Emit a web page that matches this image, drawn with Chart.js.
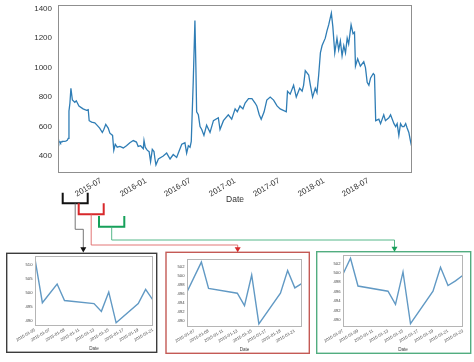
<!DOCTYPE html>
<html><head><meta charset="utf-8">
<script src="https://cdn.jsdelivr.net/npm/chart.js@4.4.0/dist/chart.umd.min.js"></script>
<style>
html,body{margin:0;padding:0;background:#fff;}
#wrap{position:relative;width:474px;height:362px;overflow:hidden;background:#fff;}
canvas{position:absolute;}
svg{position:absolute;left:0;top:0;pointer-events:none;}
</style></head><body>
<div id="wrap">
<canvas id="main" width="474" height="210" style="left:0;top:0;width:474px;height:210px"></canvas>
<canvas id="w1" width="151" height="100" style="left:6px;top:253px;width:151px;height:100px"></canvas>
<canvas id="w2" width="144" height="102" style="left:166px;top:252px;width:144px;height:102px"></canvas>
<canvas id="w3" width="155" height="103" style="left:316px;top:251px;width:155px;height:103px"></canvas>
<svg width="474" height="362">
 <g fill="none">
  <rect x="6.7" y="253.3" width="150" height="99" stroke="#3c3c3c" stroke-width="1.4"/>
  <rect x="166" y="252.3" width="143.3" height="101" stroke="#c45a55" stroke-width="1.4"/>
  <rect x="316.7" y="251.7" width="154" height="101.6" stroke="#52ad80" stroke-width="1.4"/>
  <path d="M62.7 192.7 V203.3 H87.7 V192.7" stroke="#111" stroke-width="2"/>
  <path d="M78.7 203.3 V214.3 H103.7 V203.3" stroke="#d8282b" stroke-width="2"/>
  <path d="M99 216 V226.7 H124.3 V216" stroke="#16a05a" stroke-width="2"/>
  <path d="M75.2 203.3 V229.3 H83.3 V248" stroke="#666" stroke-width="0.9"/>
  <path d="M91.2 214.3 V245 H237.7 V248" stroke="#e06666" stroke-width="0.9"/>
  <path d="M111.7 226.7 V240 H394.5 V248" stroke="#44b07d" stroke-width="0.9"/>
 </g>
 <polygon points="80.3,247.3 86.3,247.3 83.3,252.6" fill="#111"/>
 <polygon points="234.7,247.3 240.7,247.3 237.7,252.3" fill="#d62728"/>
 <polygon points="391.5,246.7 397.5,246.7 394.5,251.7" fill="#1a9e5a"/>
</svg>
</div>
<script>
// ---------- data ----------
const DATES = [
'2015-01-05','2015-01-06','2015-01-08','2015-01-09','2015-01-13','2015-01-14','2015-01-15','2015-01-16',
'2015-01-19','2015-01-20','2015-01-21','2015-01-22','2015-01-23','2015-01-30','2015-02-06','2015-02-12',
'2015-02-16','2015-02-19','2015-02-23','2015-02-27','2015-03-05','2015-03-15','2015-03-21','2015-04-01',
'2015-04-18','2015-05-02','2015-05-09','2015-05-13','2015-05-23','2015-06-05','2015-06-14','2015-06-25',
'2015-07-06','2015-07-12','2015-07-20','2015-07-30','2015-08-06','2015-08-17','2015-08-22','2015-08-28',
'2015-09-05','2015-09-16','2015-09-30','2015-10-13','2015-10-27','2015-11-10','2015-11-23','2015-11-30',
'2015-12-10','2015-12-21','2015-12-24','2015-12-29','2016-01-06','2016-01-14','2016-01-20','2016-01-27',
'2016-02-03','2016-02-07','2016-02-11','2016-02-21','2016-03-12','2016-03-26','2016-04-09','2016-04-22',
'2016-05-06','2016-05-13','2016-05-27','2016-06-09','2016-06-16','2016-06-23','2016-06-30','2016-07-05',
'2016-07-13','2016-07-20','2016-07-24','2016-07-27','2016-08-03','2016-08-10','2016-08-17','2016-08-26',
'2016-09-06','2016-09-20','2016-10-04','2016-10-24','2016-10-31','2016-11-14','2016-12-04','2016-12-18',
'2017-01-01','2017-01-10','2017-01-21','2017-02-02','2017-02-11','2017-02-25','2017-03-11','2017-03-24',
'2017-03-31','2017-04-10','2017-04-18','2017-04-30','2017-05-11','2017-05-25','2017-06-08','2017-06-22',
'2017-07-05','2017-07-30','2017-08-04','2017-08-15','2017-08-29','2017-09-09','2017-09-23','2017-10-03',
'2017-10-09','2017-10-16','2017-10-30','2017-11-06','2017-11-15','2017-11-26','2017-12-03','2017-12-10',
'2017-12-17','2017-12-24','2018-01-06','2018-01-13','2018-01-20','2018-01-31','2018-02-06','2018-02-14',
'2018-02-23','2018-03-02','2018-03-09','2018-03-16','2018-03-23','2018-03-30','2018-04-06','2018-04-12',
'2018-04-22','2018-04-30','2018-05-06','2018-05-10','2018-05-19','2018-05-30','2018-06-13','2018-06-20',
'2018-06-27','2018-07-04','2018-07-11','2018-07-22','2018-07-27','2018-08-01','2018-08-14','2018-08-21',
'2018-09-03','2018-09-10','2018-09-24','2018-10-01','2018-10-15','2018-10-22','2018-10-28','2018-11-04',
'2018-11-11','2018-11-18','2018-11-25','2018-12-02','2018-12-08','2018-12-15','2018-12-22','2018-12-26',
'2018-12-28'];
const VALUES = [
512,496.4,503.1,497.2,496.1,493.3,500.2,489.2,
496.1,501.2,497.3,498.3,499.5,500,502,507,
520,705,760,860,780,765,775,740,
720,710,715,640,630,625,610,590,
560,580,615,590,555,540,440,480,
460,465,455,470,490,505,495,465,
470,450,505,460,440,430,362,445,
430,380,340,380,400,420,380,410,
390,420,480,490,420,470,460,500,
900,1320,1000,700,680,600,580,540,
610,560,640,660,580,640,680,650,
720,700,740,720,760,790,790,760,
740,680,650,700,780,800,780,740,
720,700,840,820,880,800,860,840,
880,980,950,880,800,860,830,950,
1100,1150,1200,1250,1290,1370,1280,1100,
1200,1120,1180,1080,1150,1100,1200,1160,
1290,1230,1240,1010,1060,1010,1040,1000,
900,880,930,960,950,640,650,620,
680,640,660,680,620,600,620,540,
620,600,600,620,590,560,500,470,
490];
const MAIN_X_TICKS = ['2015-07','2016-01','2016-07','2017-01','2017-07','2018-01','2018-07'];
const MAIN_Y_TICKS = [400,600,800,1000,1200,1400];
const WIN_STARTS = ['2015-01-05','2015-01-06','2015-01-07'];
const WIN_ENDS   = ['2015-01-21','2015-01-22','2015-01-23'];
const SMALL_X_TICKS = ['2015-01-05','2015-01-07','2015-01-09','2015-01-11','2015-01-13','2015-01-15','2015-01-17','2015-01-19','2015-01-21','2015-01-23'];
const W1_Y_TICKS = [490,495,500,505,510];
const W2_Y_TICKS = [490,492,494,496,498,500,502];
const W3_Y_TICKS = [490,492,494,496,498,500,502];

// ---------- helpers ----------
const FONT = "'Liberation Sans', Arial, sans-serif";
const LINE = '#2f7db5';
const toMs = s => Date.parse(s.length === 7 ? s + '-01' : s);
const pad2 = n => String(n).padStart(2,'0');
const fmtMonth = v => { const d = new Date(v); return d.getUTCFullYear() + '-' + pad2(d.getUTCMonth()+1); };
const fmtDay = v => { const d = new Date(v); return d.getUTCFullYear() + '-' + pad2(d.getUTCMonth()+1) + '-' + pad2(d.getUTCDate()); };
const POINTS = DATES.map((d,i) => ({x: toMs(d), y: VALUES[i]}));
const noPad = s => { s.paddingTop = 0; s.paddingBottom = 0; s.paddingLeft = 0; s.paddingRight = 0; };

const framePlugin = {
  id: 'frame',
  afterDraw(chart, args, opts) {
    const a = chart.chartArea, ctx = chart.ctx;
    ctx.save();
    ctx.strokeStyle = opts.color || '#999';
    ctx.lineWidth = opts.width || 1;
    ctx.strokeRect(a.left + 0.5, a.top + 0.5, a.right - a.left - 1, a.bottom - a.top - 1);
    ctx.restore();
  }
};

// ---------- main chart ----------
new Chart(document.getElementById('main'), {
  type: 'line',
  data: { datasets: [{ data: POINTS, borderColor: LINE, borderWidth: 1.3, pointRadius: 0, fill: false, tension: 0 }] },
  options: {
    responsive: false, animation: false, events: [],
    layout: { padding: { left: 0, right: 62, top: 5, bottom: 0 } },
    plugins: { legend: { display: false }, tooltip: { enabled: false }, frame: { color: '#8f8f8f', width: 1 } },
    scales: {
      x: {
        type: 'linear', min: toMs(DATES[0]), max: toMs(DATES[DATES.length-1]),
        afterBuildTicks: s => { s.ticks = MAIN_X_TICKS.map(t => ({ value: toMs(t) })); },
        afterFit: s => { s.height = 37; noPad(s); },
        grid: { display: false, drawTicks: false }, border: { display: false },
        ticks: { autoSkip: false, minRotation: 30, maxRotation: 30, padding: 3, color: '#333',
                 font: { family: FONT, size: 8 }, callback: v => fmtMonth(v) },
        title: { display: true, text: 'Date', color: '#333', font: { family: FONT, size: 8.5 }, padding: { top: 0, bottom: 5 } }
      },
      y: {
        min: 285, max: 1425,
        afterBuildTicks: s => { s.ticks = MAIN_Y_TICKS.map(v => ({ value: v })); },
        afterFit: s => { s.width = 58; noPad(s); },
        grid: { display: false, drawTicks: false }, border: { display: false },
        ticks: { padding: 6, color: '#333', font: { family: FONT, size: 8 }, callback: v => String(v) }
      }
    }
  },
  plugins: [framePlugin]
});

// ---------- zoomed windows ----------
function valueAt(x) {
  for (let i = 0; i < POINTS.length - 1; i++) {
    const a = POINTS[i], b = POINTS[i+1];
    if (x >= a.x && x <= b.x) return a.y + (b.y - a.y) * (x - a.x) / (b.x - a.x);
  }
  return null;
}
function yRange(x0, x1) {
  const vals = POINTS.filter(p => p.x >= x0 && p.x <= x1).map(p => p.y);
  vals.push(valueAt(x0), valueAt(x1));
  const mn = Math.min(...vals), mx = Math.max(...vals), m = (mx - mn) * 0.05;
  return [mn - m, mx + m];
}
// geometry: [yAxisWidth, padTop, padRight, xAxisHeight]
const GEOM = [[29, 3, 4, 27], [21, 7, 8, 27], [27, 4, 8, 27]];
const YTICKS = [W1_Y_TICKS, W2_Y_TICKS, W3_Y_TICKS];
['w1','w2','w3'].forEach((id, k) => {
  const x0 = toMs(WIN_STARTS[k]), x1 = toMs(WIN_ENDS[k]);
  const [ymin, ymax] = yRange(x0, x1);
  const g = GEOM[k];
  new Chart(document.getElementById(id), {
    type: 'line',
    data: { datasets: [{ data: POINTS, borderColor: '#6199c4', borderWidth: 1.4, pointRadius: 0, fill: false, tension: 0 }] },
    options: {
      responsive: false, animation: false, events: [],
      layout: { padding: { left: 0, right: g[2], top: g[1], bottom: 0 } },
      plugins: { legend: { display: false }, tooltip: { enabled: false }, frame: { color: '#b5b5b5', width: 1 } },
      scales: {
        x: {
          type: 'linear', min: x0, max: x1,
          afterBuildTicks: s => { s.ticks = SMALL_X_TICKS.map(toMs).filter(v => v >= x0 && v <= x1).map(v => ({ value: v })); },
          afterFit: s => { s.height = g[3]; noPad(s); },
          grid: { display: false, drawTicks: false }, border: { display: false },
          ticks: { autoSkip: false, minRotation: 30, maxRotation: 30, padding: 1.5, color: '#444',
                   font: { family: FONT, size: 4.2 }, callback: v => fmtDay(v) },
          title: { display: true, text: 'Date', color: '#444', font: { family: FONT, size: 4.6 }, padding: { top: 0, bottom: 2 } }
        },
        y: {
          min: ymin, max: ymax,
          afterBuildTicks: s => { s.ticks = YTICKS[k].map(v => ({ value: v })); },
          afterFit: s => { s.width = g[0]; noPad(s); },
          grid: { display: false, drawTicks: false }, border: { display: false },
          ticks: { padding: 2.5, color: '#444', font: { family: FONT, size: 4.2 }, callback: v => String(v) }
        }
      }
    },
    plugins: [framePlugin]
  });
});
</script>
</body></html>
